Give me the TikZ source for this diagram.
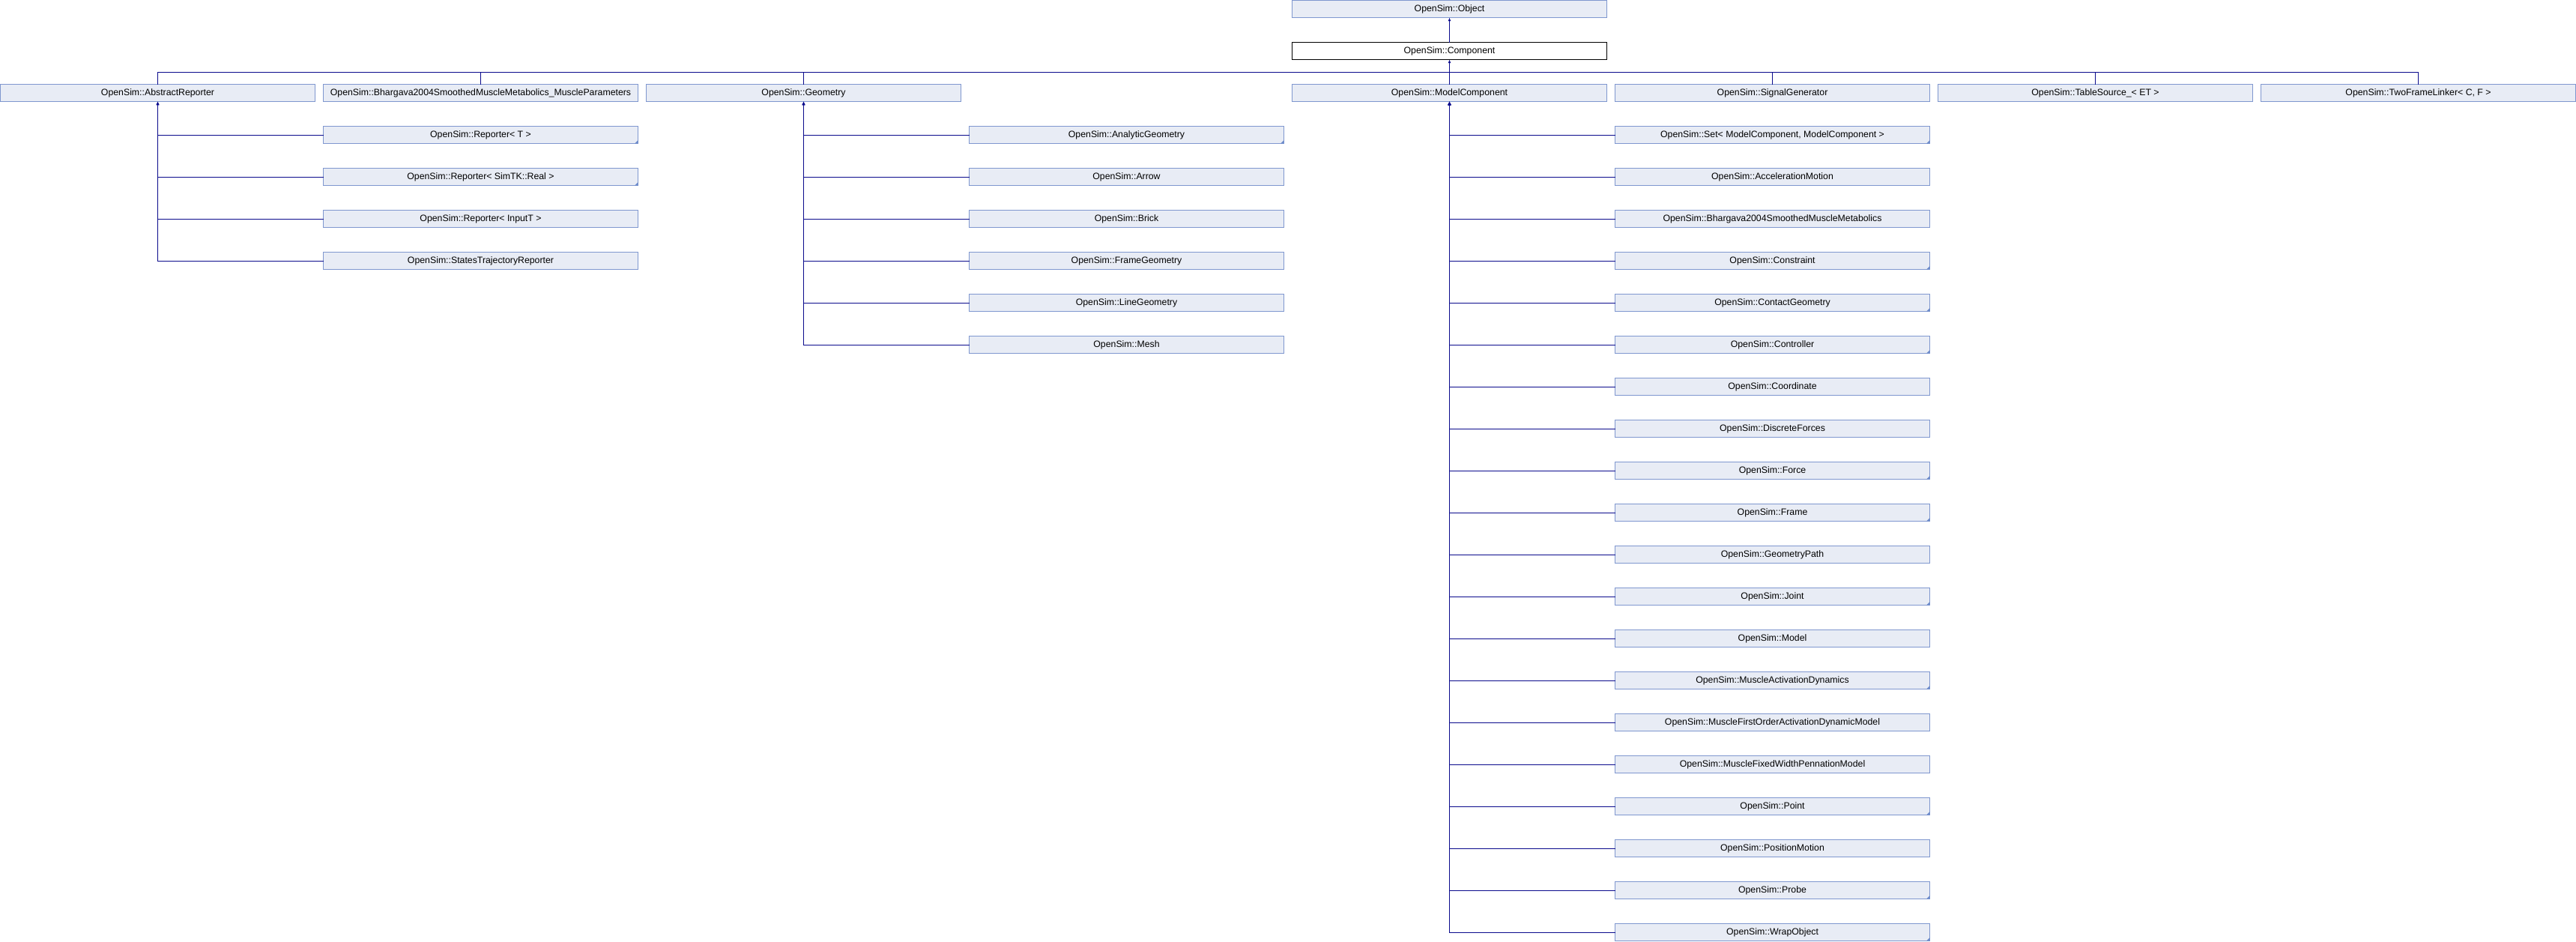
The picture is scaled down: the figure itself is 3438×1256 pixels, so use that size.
\documentclass[tikz,border=0pt]{standalone}
\usepackage{fontspec}
\setmainfont{Liberation Sans}
\usetikzlibrary{positioning,arrows.meta}

\definecolor{boxfill}{HTML}{E8ECF5}
\definecolor{boxline}{HTML}{7F97CF}
\definecolor{linkcol}{HTML}{0A0A8C}
\definecolor{markcol}{HTML}{6E8CCB}

\tikzset{
  cls/.style={rectangle,draw=boxline,fill=boxfill,line width=1pt,
    minimum width=420pt,minimum height=23pt,inner sep=0pt,outer sep=0pt,
    anchor=north west,font=\fontsize{12.3}{14}\selectfont},
  sub/.style={cls,below=33pt of #1},
  link/.style={draw=linkcol,line width=1pt},
  inh/.style={link,{Latex[length=4.5pt,width=3.8pt]}-}
}

\begin{document}
\begin{tikzpicture}[x=1pt,y=-1pt]
\useasboundingbox (0,0) rectangle (3438,1256);

% base classes
\node[cls] (object) at (1724.5,0.5) {OpenSim::Object};
\node[cls,draw=black,fill=white] (comp) at (1724.5,56.5) {OpenSim::Component};

% direct subclasses
\node[cls] (abrep)   at (0.5,112.5)    {OpenSim::AbstractReporter};
\node[cls] (bhparam) at (431.5,112.5)  {OpenSim::Bhargava2004SmoothedMuscleMetabolics\_MuscleParameters};
\node[cls] (geom)    at (862.5,112.5)  {OpenSim::Geometry};
\node[cls] (modcomp) at (1724.5,112.5) {OpenSim::ModelComponent};
\node[cls] (siggen)  at (2155.5,112.5) {OpenSim::SignalGenerator};
\node[cls] (tabsrc)  at (2586.5,112.5) {OpenSim::TableSource\_< ET >};
\node[cls] (twofl)   at (3017.5,112.5) {OpenSim::TwoFrameLinker< C, F >};

% reporters
\node[cls] (rep1) at (431.5,168.5) {OpenSim::Reporter< T >};
\node[sub=rep1] (rep2)  {OpenSim::Reporter< SimTK::Real >};
\node[sub=rep2] (rep3)  {OpenSim::Reporter< InputT >};
\node[sub=rep3] (strep) {OpenSim::StatesTrajectoryReporter};

% geometry
\node[cls] (anageom) at (1293.5,168.5) {OpenSim::AnalyticGeometry};
\node[sub=anageom] (arrow)    {OpenSim::Arrow};
\node[sub=arrow]   (brick)    {OpenSim::Brick};
\node[sub=brick]   (framegeo) {OpenSim::FrameGeometry};
\node[sub=framegeo](linegeo)  {OpenSim::LineGeometry};
\node[sub=linegeo] (mesh)     {OpenSim::Mesh};

% model components
\node[cls] (set) at (2155.5,168.5) {OpenSim::Set< ModelComponent, ModelComponent >};
\node[sub=set]     (accmot)  {OpenSim::AccelerationMotion};
\node[sub=accmot]  (bhmet)   {OpenSim::Bhargava2004SmoothedMuscleMetabolics};
\node[sub=bhmet]   (constr)  {OpenSim::Constraint};
\node[sub=constr]  (contact) {OpenSim::ContactGeometry};
\node[sub=contact] (contr)   {OpenSim::Controller};
\node[sub=contr]   (coord)   {OpenSim::Coordinate};
\node[sub=coord]   (discf)   {OpenSim::DiscreteForces};
\node[sub=discf]   (force)   {OpenSim::Force};
\node[sub=force]   (frame)   {OpenSim::Frame};
\node[sub=frame]   (geopath) {OpenSim::GeometryPath};
\node[sub=geopath] (joint)   {OpenSim::Joint};
\node[sub=joint]   (model)   {OpenSim::Model};
\node[sub=model]   (mad)     {OpenSim::MuscleActivationDynamics};
\node[sub=mad]     (mfoad)   {OpenSim::MuscleFirstOrderActivationDynamicModel};
\node[sub=mfoad]   (mfwpm)   {OpenSim::MuscleFixedWidthPennationModel};
\node[sub=mfwpm]   (point)   {OpenSim::Point};
\node[sub=point]   (posmot)  {OpenSim::PositionMotion};
\node[sub=posmot]  (probe)   {OpenSim::Probe};
\node[sub=probe]   (wrap)    {OpenSim::WrapObject};

% inheritance
\coordinate (bus) at (0,96.5);
\draw[inh] (object.south) -- (comp.north);
\draw[link] (abrep.north) |- (twofl.north |- bus) -- (twofl.north);
\foreach \n in {bhparam,geom,modcomp,siggen,tabsrc}
  \draw[link] (\n.north) -- (\n.north |- bus);
\draw[inh] (comp.south) -- (comp.south |- bus);

\foreach \n in {rep1,rep2,rep3,strep}
  \draw[inh] (abrep.south) |- (\n.west);
\foreach \n in {anageom,arrow,brick,framegeo,linegeo,mesh}
  \draw[inh] (geom.south) |- (\n.west);
\foreach \n in {set,accmot,bhmet,constr,contact,contr,coord,discf,force,frame,
    geopath,joint,model,mad,mfoad,mfwpm,point,posmot,probe,wrap}
  \draw[inh] (modcomp.south) |- (\n.west);

% classes with more subclasses
\foreach \n in {rep1,rep2,anageom,set,constr,contact,contr,force,frame,joint,
    mad,point,probe,wrap}
  \fill[markcol] (\n.south east) -- ++(-4.5,0) -- ++(4.5,-4.5) -- cycle;

\end{tikzpicture}
\end{document}
